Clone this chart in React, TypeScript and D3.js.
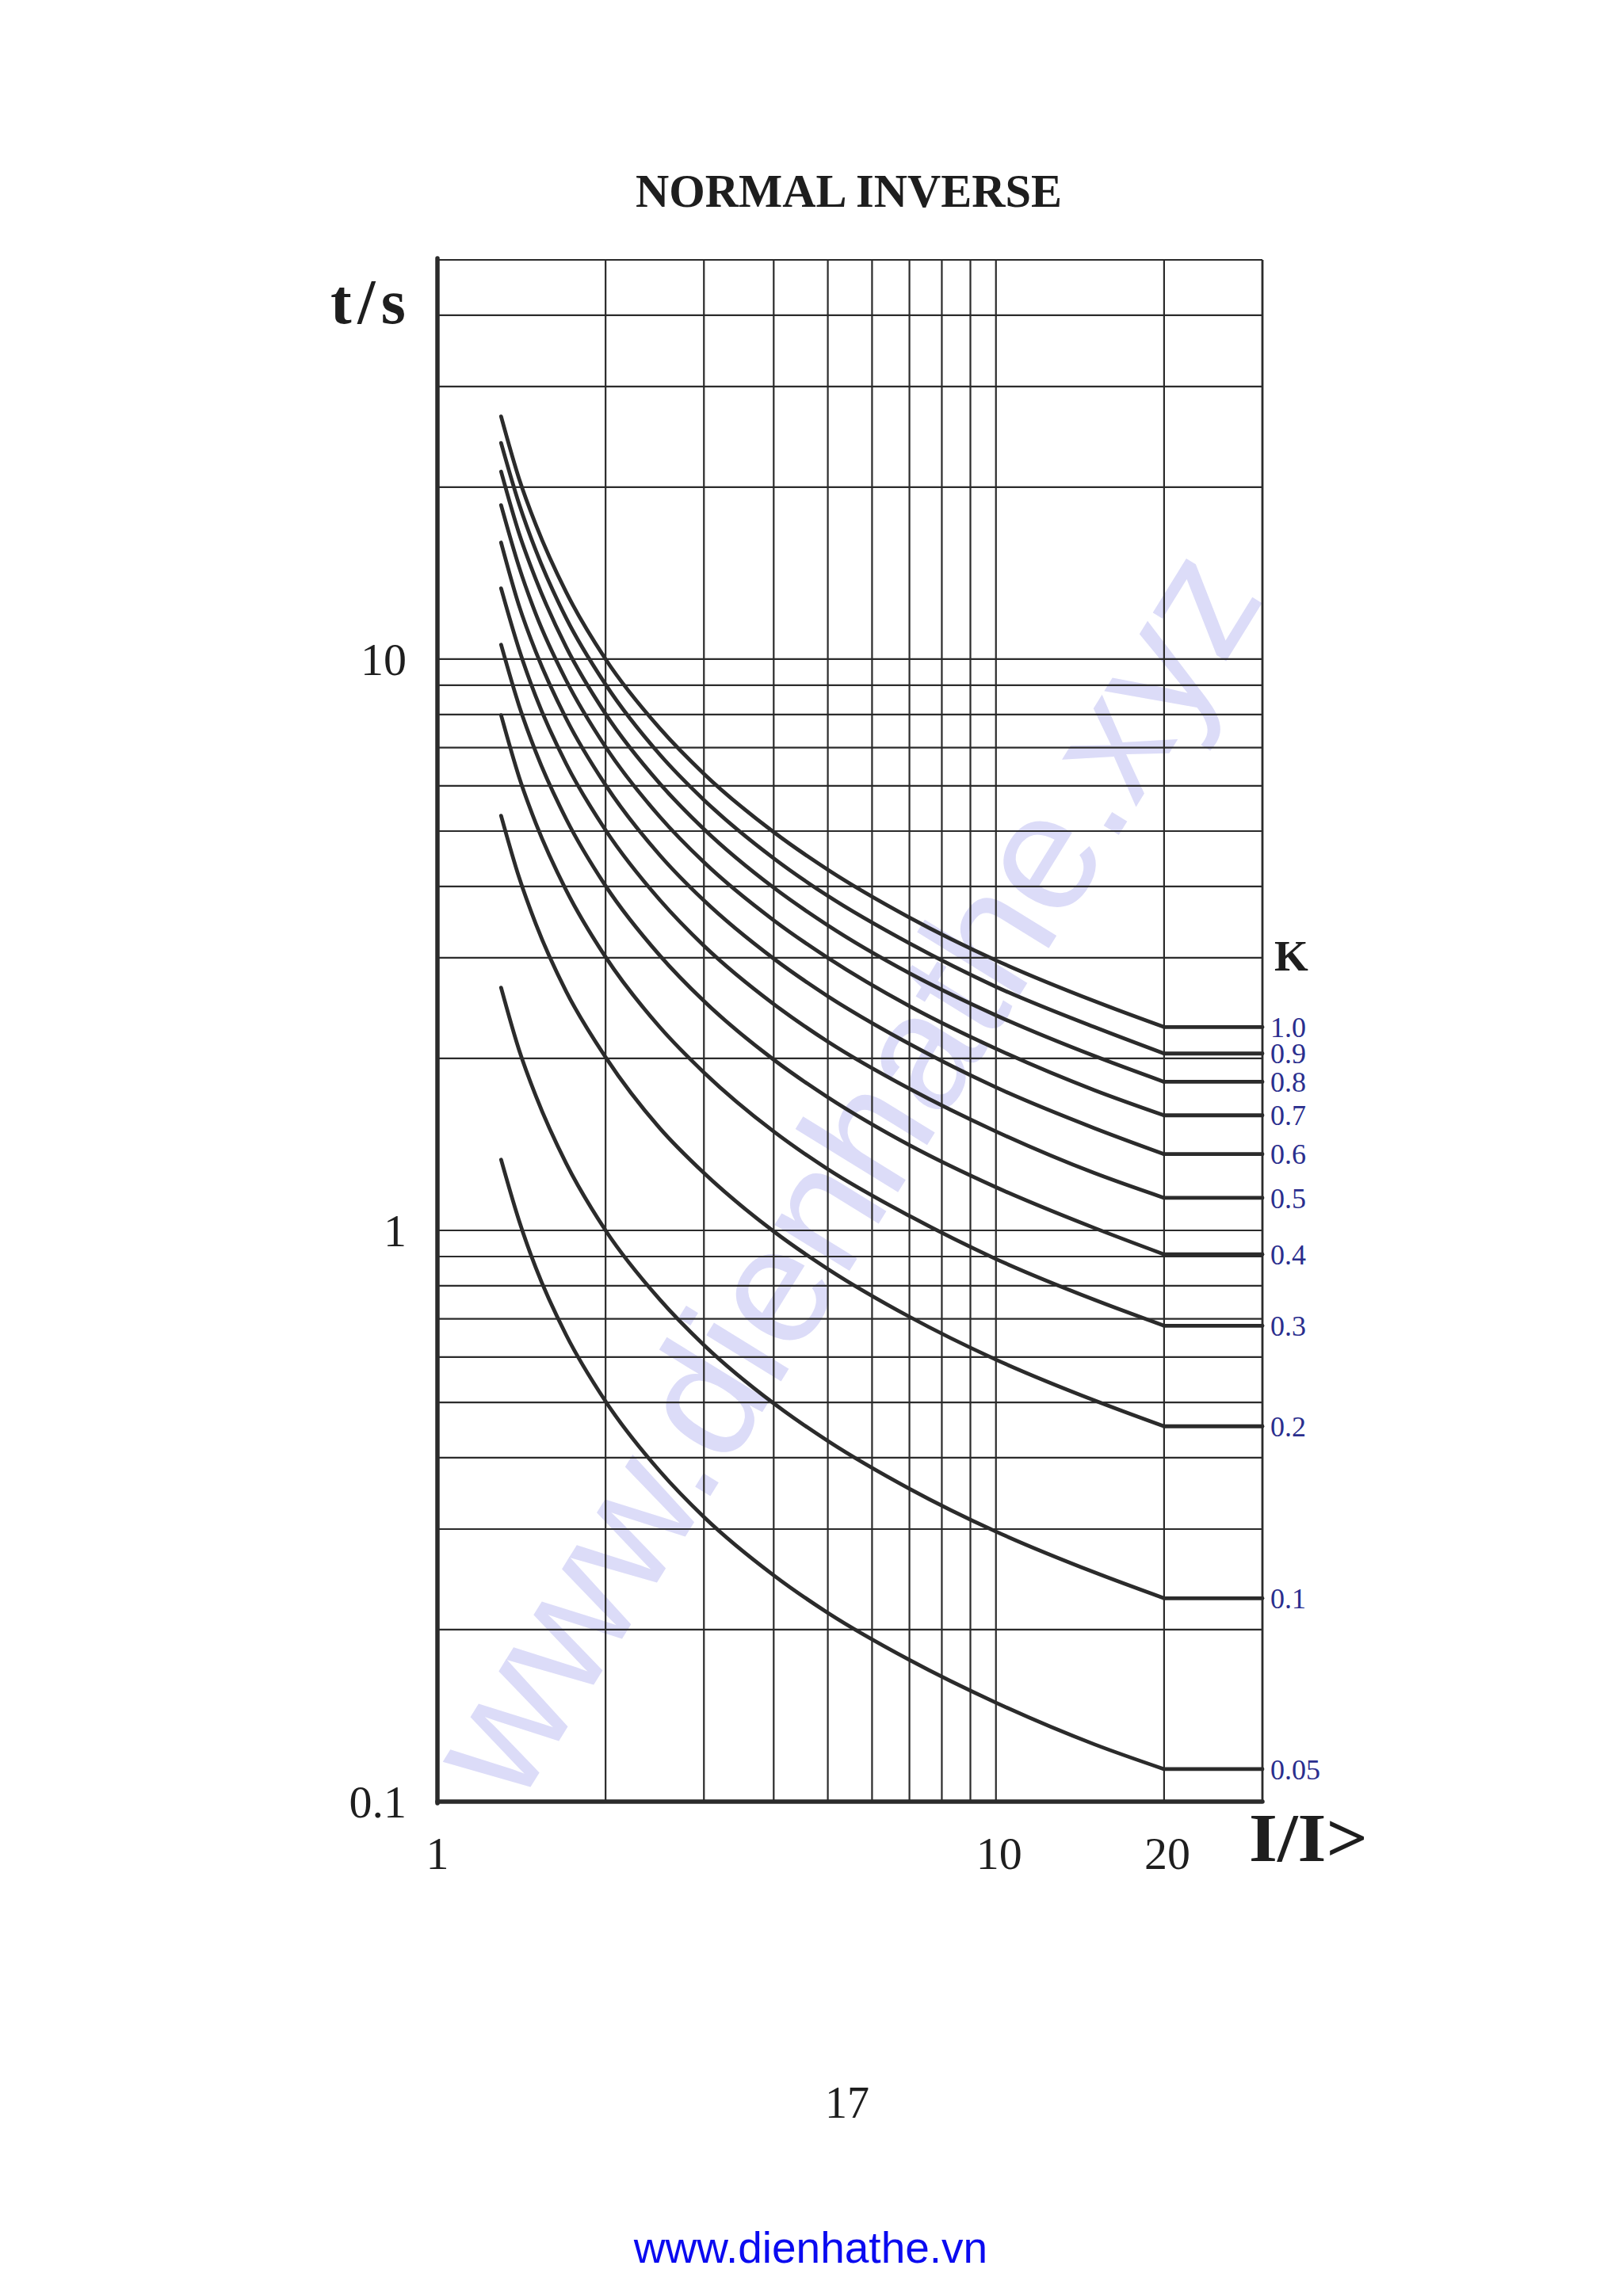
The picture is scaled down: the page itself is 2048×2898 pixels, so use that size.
import React from "react";
import * as d3 from "d3";

// ---- Data ----
const currentMultiples = [1.3, 1.4, 1.5, 1.7, 2, 2.5, 3, 4, 5, 7, 10, 15, 20];
const kLabels = ["1.0", "0.9", "0.8", "0.7", "0.6", "0.5", "0.4", "0.3", "0.2", "0.1", "0.05"];
const tK100 = [26.6, 20.7, 17.2, 13.1, 10.0, 7.57, 6.30, 4.98, 4.28, 3.53, 2.97, 2.52, 2.27];
const tK090 = [23.9, 18.7, 15.5, 11.8, 9.03, 6.81, 5.67, 4.48, 3.85, 3.18, 2.67, 2.27, 2.04];
const tK080 = [21.3, 16.6, 13.8, 10.5, 8.02, 6.06, 5.04, 3.98, 3.42, 2.82, 2.38, 2.02, 1.82];
const tK070 = [18.6, 14.5, 12.0, 9.18, 7.02, 5.30, 4.41, 3.49, 3.00, 2.47, 2.08, 1.76, 1.59];
const tK060 = [16.0, 12.4, 10.3, 7.87, 6.02, 4.54, 3.78, 2.99, 2.57, 2.12, 1.78, 1.51, 1.36];
const tK050 = [13.3, 10.4, 8.60, 6.56, 5.02, 3.79, 3.15, 2.49, 2.14, 1.77, 1.49, 1.26, 1.14];
const tK040 = [10.6, 8.29, 6.88, 5.25, 4.01, 3.03, 2.52, 1.99, 1.71, 1.41, 1.19, 1.01, 0.908];
const tK030 = [7.98, 6.22, 5.16, 3.94, 3.01, 2.27, 1.89, 1.49, 1.28, 1.06, 0.891, 0.756, 0.681];
const tK020 = [5.32, 4.15, 3.44, 2.62, 2.01, 1.51, 1.26, 0.996, 0.856, 0.706, 0.594, 0.504, 0.454];
const tK010 = [2.66, 2.07, 1.72, 1.31, 1.00, 0.757, 0.630, 0.498, 0.428, 0.353, 0.297, 0.252, 0.227];
const tK005 = [1.33, 1.04, 0.860, 0.656, 0.502, 0.379, 0.315, 0.249, 0.214, 0.177, 0.149, 0.126, 0.114];
const seriesT = [tK100, tK090, tK080, tK070, tK060, tK050, tK040, tK030, tK020, tK010, tK005];

const flatFrom = 20;
const flatTo = 30;

const xGridValues = [2, 3, 4, 5, 6, 7, 8, 9, 10, 20, 30];
const yGridValues = [0.2, 0.3, 0.4, 0.5, 0.6, 0.7, 0.8, 0.9, 1, 2, 3, 4, 5, 6, 7, 8, 9, 10, 20, 30, 40, 50];
const xTickLabels = [1, 10, 20];
const yTickLabels = [0.1, 1, 10];

const title = "NORMAL INVERSE";
const yAxisTitle = "t/s";
const xAxisTitle = "I/I>";
const legendTitle = "K";
const pageNumber = "17";
const footer = "www.dienhathe.vn";
const watermark = "www.dienhathe.xyz";

export default function App() {
  const W = 2048;
  const H = 2898;
  const x = d3.scaleLog().domain([1, 30]).range([552, 1593]);
  const y = d3.scaleLog().domain([0.1, 50]).range([2274, 328]);

  const line = d3
    .line<[number, number]>()
    .x((d) => x(d[0]))
    .y((d) => y(d[1]))
    .curve(d3.curveMonotoneX);
  const flat = d3
    .line<[number, number]>()
    .x((d) => x(d[0]))
    .y((d) => y(d[1]));

  const ink = "#2b2b2b";
  const serif = "'Liberation Serif', 'DejaVu Serif', serif";
  const sans = "'Liberation Sans', Arial, sans-serif";

  return (
    <svg
      width={W}
      height={H}
      viewBox={`0 0 ${W} ${H}`}
      style={{ position: "absolute", left: 0, top: 0, background: "#ffffff" }}
    >
      <rect x={0} y={0} width={W} height={H} fill="#ffffff" />

      {/* title */}
      <text
        x={1071}
        y={261}
        textAnchor="middle"
        fontFamily={serif}
        fontWeight="bold"
        fontSize={60}
        fill="#1e1e1e"
        textLength={538}
        lengthAdjust="spacingAndGlyphs"
      >
        {title}
      </text>

      {/* watermark */}
      <text
        transform="translate(1072,1484) rotate(-58.3)"
        textAnchor="middle"
        dy="0.3em"
        fontFamily={sans}
        fontSize={210}
        fill="#dcdcf8"
      >
        {watermark}
      </text>

      {/* grid */}
      {yGridValues.map((v) => (
        <line
          key={"yg" + v}
          x1={x(1)}
          x2={x(30)}
          y1={y(v)}
          y2={y(v)}
          stroke={ink}
          strokeWidth={2.2}
        />
      ))}
      {xGridValues.map((v) => (
        <line
          key={"xg" + v}
          x1={x(v)}
          x2={x(v)}
          y1={y(50)}
          y2={y(0.1)}
          stroke={ink}
          strokeWidth={v === 30 ? 2.8 : 2.2}
        />
      ))}

      {/* axes */}
      <line x1={x(1)} x2={x(1)} y1={y(50) - 2} y2={y(0.1) + 2} stroke={ink} strokeWidth={5.5} strokeLinecap="round" />
      <line x1={x(1)} x2={x(30)} y1={y(0.1)} y2={y(0.1)} stroke={ink} strokeWidth={5.5} strokeLinecap="round" />

      {/* curves */}
      {seriesT.map((ts, i) => {
        const pts = currentMultiples.map((I, j) => [I, ts[j]] as [number, number]);
        const last = ts[ts.length - 1];
        return (
          <g key={"c" + i}>
            <path d={line(pts) || ""} fill="none" stroke={ink} strokeWidth={4.8} strokeLinecap="round" />
            <path
              d={flat([[flatFrom, last], [flatTo, last]]) || ""}
              fill="none"
              stroke={ink}
              strokeWidth={4.8}
              strokeLinecap="round"
            />
            <text
              x={x(flatTo) + 10}
              y={y(last)}
              dy="0.35em"
              fontFamily={serif}
              fontSize={36}
              fill="#2a2e8e"
            >
              {kLabels[i]}
            </text>
          </g>
        );
      })}

      {/* legend title K */}
      <text x={1608} y={1225} fontFamily={serif} fontWeight="bold" fontSize={55} fill="#1e1e1e">
        {legendTitle}
      </text>

      {/* tick labels */}
      {yTickLabels.map((v) => (
        <text
          key={"yl" + v}
          x={513}
          y={y(v)}
          dy="0.35em"
          textAnchor="end"
          fontFamily={serif}
          fontSize={58}
          fill="#1e1e1e"
        >
          {String(v)}
        </text>
      ))}
      {xTickLabels.map((v) => (
        <text
          key={"xl" + v}
          x={x(v) + (v === 1 ? 0 : 4)}
          y={2359}
          textAnchor="middle"
          fontFamily={serif}
          fontSize={58}
          fill="#1e1e1e"
        >
          {String(v)}
        </text>
      ))}

      {/* axis titles */}
      <text
        x={417}
        y={408}
        fontFamily={serif}
        fontWeight="bold"
        fontSize={80}
        fill="#1e1e1e"
        textLength={95}
        lengthAdjust="spacing"
      >
        {yAxisTitle}
      </text>
      <text
        x={1576}
        y={2349}
        fontFamily={serif}
        fontWeight="bold"
        fontSize={86}
        fill="#1e1e1e"
        textLength={150}
        lengthAdjust="spacingAndGlyphs"
      >
        {xAxisTitle}
      </text>

      {/* page number and footer */}
      <text x={1069} y={2673} textAnchor="middle" fontFamily={serif} fontSize={56} fill="#1e1e1e">
        {pageNumber}
      </text>
      <text x={1023} y={2856} textAnchor="middle" fontFamily={sans} fontSize={55} fill="#0a0af0">
        {footer}
      </text>
    </svg>
  );
}
